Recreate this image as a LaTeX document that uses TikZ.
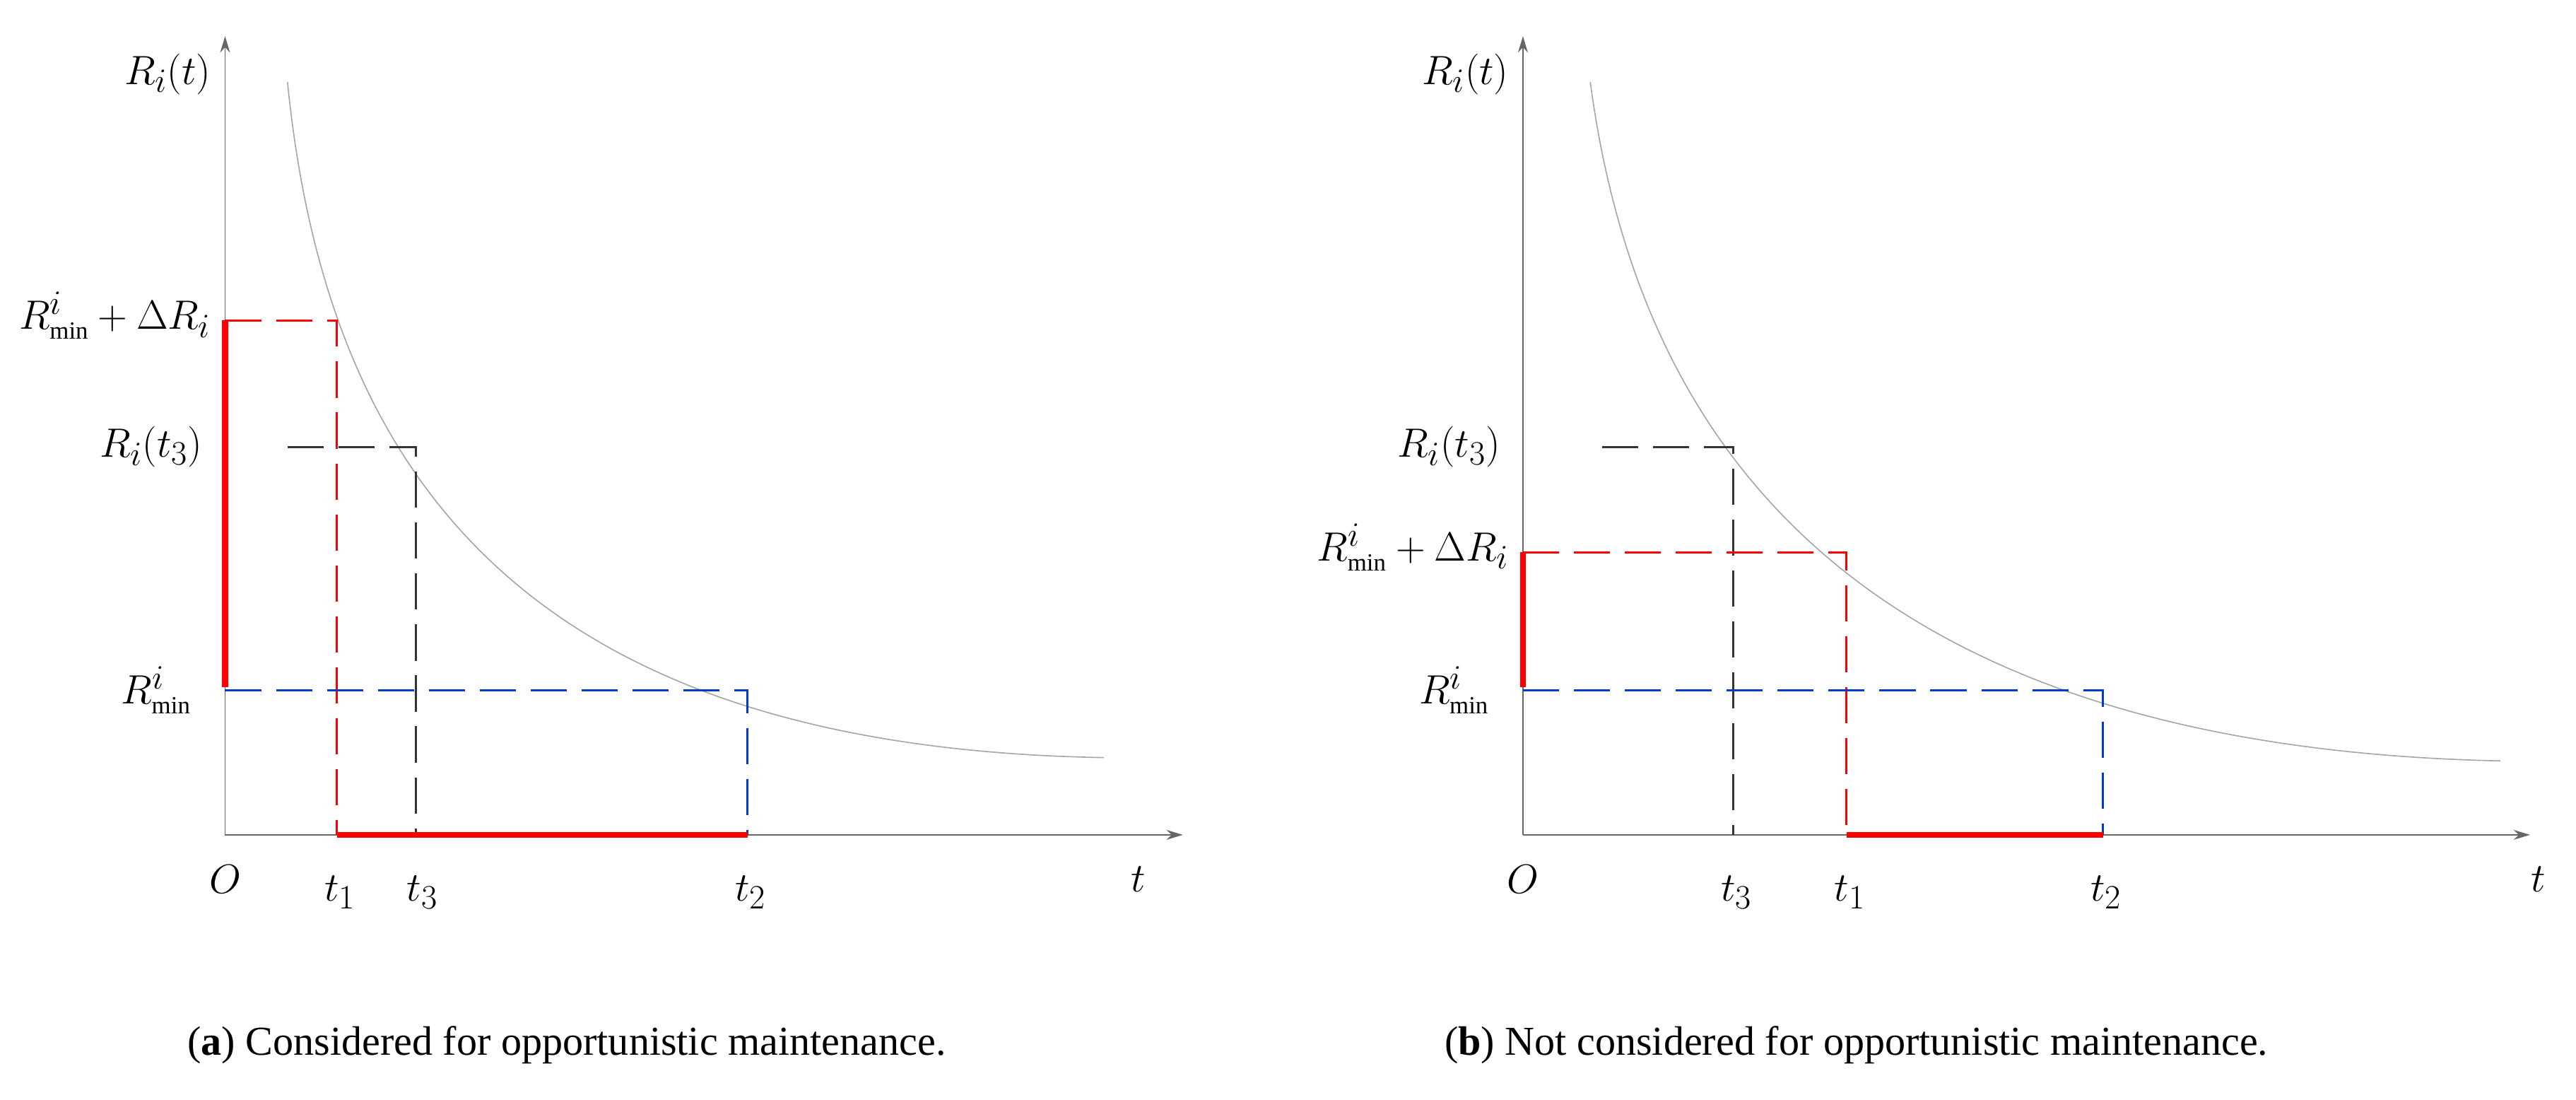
\documentclass[tikz,border=0pt]{standalone}
\usepackage{fontspec}
\setmainfont{Liberation Serif}
\usetikzlibrary{arrows.meta}
\newcommand{\rmin}{R^{i}_{\scriptscriptstyle\mathrm{min}}}
\begin{document}
\begin{tikzpicture}[x=1pt,y=-1pt,
 axis/.style={draw=gray!80!black,line width=0.8pt,-{Stealth[length=10pt,width=6pt]}},
 curve/.style={draw=gray!70,line width=0.7pt},
 dsh/.style={line width=1.3pt,dash pattern=on 22pt off 9pt},
 thickred/.style={draw=red,line width=3.5pt},
 lbl/.style={font=\fontsize{30}{32}\selectfont,inner sep=1pt},
 captxt/.style={font=\fontsize{25}{28}\selectfont}]
\useasboundingbox (0,0) rectangle (1568,669);
% ---------- panel a
\coordinate (Oa) at (137,508);
\coordinate (Ya) at (137,22);
\coordinate (Xa) at (720,508);
\draw[axis] (Oa) -- (Ya);
\draw[axis] (Oa) -- (Xa);
\draw[curve] (175,50) .. controls (200,300) and (330,455) .. (672,461);
\draw[dsh,red] (137,195) -- (205,195) -- (205,508);
\draw[dsh,black!80] (175,272) -- (253,272) -- (253,508);
\draw[dsh,blue!70!cyan!80!black] (137,420) -- (455,420) -- (455,508);
\draw[thickred] (137,195) -- (137,418);
\draw[thickred] (205,508) -- (455,508);
\node[lbl] (a1) at (102,45) {$R_i(t)$};
\node[lbl] (a2) at (70,192) {$\rmin+\Delta R_i$};
\node[lbl] (a3) at (92,272) {$R_i(t_3)$};
\node[lbl] (a4) at (95,420) {$\rmin$};
\node[lbl] (a5) at (137,535) {$O$};
\node[lbl] (a6) at (207,543) {$t_1$};
\node[lbl] (a7) at (257,543) {$t_3$};
\node[lbl] (a8) at (457,543) {$t_2$};
\node[lbl] (a9) at (693,535) {$t$};
\node[captxt] (ca) at (345,636) {(\textbf{a}) Considered for opportunistic maintenance.};
% ---------- panel b
\coordinate (Ob) at (927,508);
\coordinate (Yb) at (927,22);
\coordinate (Xb) at (1540,508);
\draw[axis] (Ob) -- (Yb);
\draw[axis] (Ob) -- (Xb);
\draw[curve] (968,50) .. controls (1000,290) and (1150,455) .. (1522,463);
\draw[dsh,black!80] (975,272) -- (1055,272) -- (1055,508);
\draw[dsh,red] (927,336) -- (1124,336) -- (1124,508);
\draw[dsh,blue!70!cyan!80!black] (927,420) -- (1280,420) -- (1280,508);
\draw[thickred] (927,336) -- (927,418);
\draw[thickred] (1124,508) -- (1280,508);
\node[lbl] (b1) at (892,45) {$R_i(t)$};
\node[lbl] (b2) at (882,272) {$R_i(t_3)$};
\node[lbl] (b3) at (860,333) {$\rmin+\Delta R_i$};
\node[lbl] (b4) at (885,420) {$\rmin$};
\node[lbl] (b5) at (927,535) {$O$};
\node[lbl] (b6) at (1057,543) {$t_3$};
\node[lbl] (b7) at (1126,543) {$t_1$};
\node[lbl] (b8) at (1282,543) {$t_2$};
\node[lbl] (b9) at (1545,535) {$t$};
\node[captxt] (cb) at (1130,636) {(\textbf{b}) Not considered for opportunistic maintenance.};
\end{tikzpicture}
\end{document}
